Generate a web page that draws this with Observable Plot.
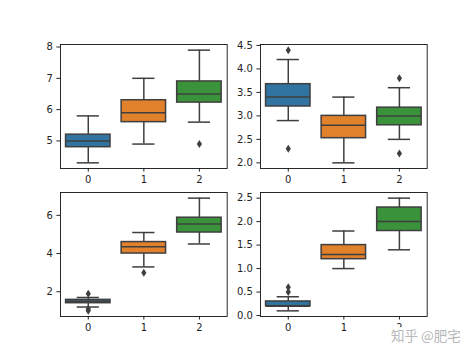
<!DOCTYPE html>
<html>
<head>
<meta charset="utf-8">
<script src="https://cdn.jsdelivr.net/npm/d3@7"></script>
<script src="https://cdn.jsdelivr.net/npm/@observablehq/plot@0.6"></script>
<style>
  html, body { margin: 0; padding: 0; background: #fff; }
  #fig { position: relative; width: 474px; height: 355px; overflow: hidden; background: #fff; }
  #fig svg { position: absolute; overflow: visible; }
  #wm { position: absolute; left: 389px; top: 327px; font-family: "Noto Sans CJK SC", sans-serif;
        font-size: 13.5px; color: #b8b8b8; background: rgba(255,255,255,0.92); padding: 0 2px; line-height: 17px; }
</style>
</head>
<body>
<div id="fig"></div>
<script>
// ---- data ----
const categories = [0, 1, 2];
const boxColors = ["#3274a1", "#e1812c", "#3a923a"];
// per category: [whiskerLow, q1, median, q3, whiskerHigh]
const sepalLength = [[4.3, 4.8, 5.0, 5.2, 5.8], [4.9, 5.6, 5.9, 6.3, 7.0], [5.6, 6.225, 6.5, 6.9, 7.9]];
const sepalLengthOutliers = [[], [], [4.9]];
const sepalWidth = [[2.9, 3.2, 3.4, 3.675, 4.2], [2.0, 2.525, 2.8, 3.0, 3.4], [2.5, 2.8, 3.0, 3.175, 3.6]];
const sepalWidthOutliers = [[2.3, 4.4], [], [2.2, 3.8]];
const petalLength = [[1.2, 1.4, 1.5, 1.575, 1.7], [3.3, 4.0, 4.35, 4.6, 5.1], [4.5, 5.1, 5.55, 5.875, 6.9]];
const petalLengthOutliers = [[1.0, 1.1, 1.9], [3.0], []];
const petalWidth = [[0.1, 0.2, 0.2, 0.3, 0.4], [1.0, 1.2, 1.3, 1.5, 1.8], [1.4, 1.8, 2.0, 2.3, 2.5]];
const petalWidthOutliers = [[0.5, 0.6], [], []];
const sepalLengthTicks = [5, 6, 7, 8];
const sepalWidthTicks = [2.0, 2.5, 3.0, 3.5, 4.0, 4.5];
const petalLengthTicks = [2, 4, 6];
const petalWidthTicks = [0.0, 0.5, 1.0, 1.5, 2.0, 2.5];

// ---- layout ----
const gray = "#3f3f3f";
const frameW = 166.7, frameH = 124;
const mL = 36, mR = 8, mT = 8, mB = 24;
const thinDiamond = {
  draw(ctx, size) {
    const r = Math.sqrt(size / Math.PI);
    ctx.moveTo(0, -r); ctx.lineTo(r * 0.65, 0); ctx.lineTo(0, r); ctx.lineTo(-r * 0.65, 0); ctx.closePath();
  }
};

function extent(stats, outs) {
  const vals = stats.flat().concat(outs.flat());
  const lo = d3.min(vals), hi = d3.max(vals), pad = (hi - lo) * 0.05;
  return [lo - pad, hi + pad];
}

function panel(stats, outs, ticks, fmt, fx, fy) {
  const rows = categories.map(c => ({cat: c, lo: stats[c][0], q1: stats[c][1], med: stats[c][2], q3: stats[c][3], hi: stats[c][4]}));
  const outRows = categories.flatMap(c => outs[c].map(v => ({cat: c, v})));
  const svg = Plot.plot({
    width: mL + frameW + mR,
    height: mT + frameH + mB,
    marginLeft: mL, marginRight: mR, marginTop: mT, marginBottom: mB,
    style: {fontFamily: "DejaVu Sans, sans-serif", fontSize: "10px", color: "#222", background: "transparent", overflow: "visible"},
    x: {type: "linear", domain: [-0.5, 2.5], ticks: categories, tickFormat: d => String(d), tickSize: 3.6, tickPadding: 4, label: null, nice: false},
    y: {domain: extent(stats, outs), ticks: ticks, tickFormat: fmt, tickSize: 3.6, tickPadding: 4, label: null, nice: false},
    color: {type: "ordinal", domain: categories, range: boxColors},
    marks: [
      Plot.ruleX(rows, {x: "cat", y1: "lo", y2: "q1", stroke: gray, strokeWidth: 1.5}),
      Plot.ruleX(rows, {x: "cat", y1: "q3", y2: "hi", stroke: gray, strokeWidth: 1.5}),
      Plot.ruleY(rows, {y: "lo", x1: d => d.cat - 0.2, x2: d => d.cat + 0.2, stroke: gray, strokeWidth: 1.5}),
      Plot.ruleY(rows, {y: "hi", x1: d => d.cat - 0.2, x2: d => d.cat + 0.2, stroke: gray, strokeWidth: 1.5}),
      Plot.rect(rows, {x1: d => d.cat - 0.4, x2: d => d.cat + 0.4, y1: "q1", y2: "q3", fill: "cat", stroke: gray, strokeWidth: 1.5}),
      Plot.ruleY(rows, {y: "med", x1: d => d.cat - 0.4, x2: d => d.cat + 0.4, stroke: gray, strokeWidth: 1.5}),
      Plot.dot(outRows, {x: "cat", y: "v", symbol: thinDiamond, r: 4, fill: gray, stroke: "none"}),
      Plot.frame({stroke: "#111", strokeWidth: 0.9})
    ]
  });
  svg.style.left = (fx - mL) + "px";
  svg.style.top = (fy - mT) + "px";
  document.getElementById("fig").appendChild(svg);
}

const fmt0 = d3.format("d"), fmt1 = d3.format(".1f");
panel(sepalLength, sepalLengthOutliers, sepalLengthTicks, fmt0, 59.8, 43.6);
panel(sepalWidth, sepalWidthOutliers, sepalWidthTicks, fmt1, 260.0, 43.6);
panel(petalLength, petalLengthOutliers, petalLengthTicks, fmt0, 59.8, 192.3);
panel(petalWidth, petalWidthOutliers, petalWidthTicks, fmt1, 260.0, 192.3);

const wm = document.createElement("div");
wm.id = "wm";
wm.textContent = "知乎 @肥宅";
document.getElementById("fig").appendChild(wm);
</script>
</body>
</html>
